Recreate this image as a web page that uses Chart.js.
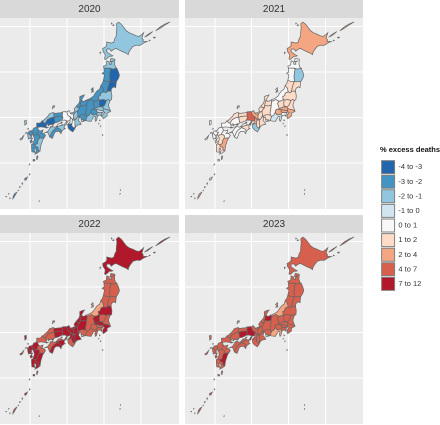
<!DOCTYPE html>
<html>
<head>
<meta charset="utf-8">
<script src="https://cdn.jsdelivr.net/npm/chart.js@4/dist/chart.umd.js"></script>
<style>
    html, body { margin: 0; padding: 0; background: #fff; width: 440px; height: 425px; overflow: hidden; }
    .box { position: absolute; }
</style>
</head>
<body>
<div class="box" style="left:0;top:0;width:179px;height:209px"><canvas id="c2020"></canvas></div>
<div class="box" style="left:185px;top:0;width:178px;height:209px"><canvas id="c2021"></canvas></div>
<div class="box" style="left:0;top:215px;width:179px;height:209px"><canvas id="c2022"></canvas></div>
<div class="box" style="left:185px;top:215px;width:178px;height:209px"><canvas id="c2023"></canvas></div>
<div class="box" style="left:370px;top:146px;width:70px;height:160px"><canvas id="cLegend"></canvas></div>
<script>
const years = ["2020", "2021", "2022", "2023"];
const lonTicks = [130, 135, 140, 145];
const latTicks = [30, 35, 40, 45];

// bins of the colour scale, upper limit is exclusive
const binLabels = ["-4 to -3", "-3 to -2", "-2 to -1", "-1 to 0", "0 to 1", "1 to 2", "2 to 4", "4 to 7", "7 to 12"];
const binUpper = [-3, -2, -1, 0, 1, 2, 4, 7, 12];
const binColors = ["#2166ac", "#4393c3", "#92c5de", "#d1e5f0", "#f7f7f7", "#fddbc7", "#f4a582", "#d6604d", "#b2182b"];

const prefNames = [
    "Hokkaido", "Aomori", "Iwate", "Miyagi", "Akita", "Yamagata", "Fukushima", "Ibaraki", "Tochigi", "Gunma",
    "Saitama", "Chiba", "Tokyo", "Kanagawa", "Niigata", "Toyama", "Ishikawa", "Fukui", "Yamanashi", "Nagano",
    "Gifu", "Shizuoka", "Aichi", "Mie", "Shiga", "Kyoto", "Osaka", "Hyogo", "Nara", "Wakayama",
    "Tottori", "Shimane", "Okayama", "Hiroshima", "Yamaguchi", "Tokushima", "Kagawa", "Ehime", "Kochi", "Fukuoka",
    "Saga", "Nagasaki", "Kumamoto", "Oita", "Miyazaki", "Kagoshima", "Okinawa"
];

// % excess deaths per prefecture, same order as prefNames, estimated from the bin colours
const excess2020 = [-1.5, -1.5, -3.5, -3.5, -2.5, -2.5, -1.5, -1.5, -3.5, -2.5,
    -1.5, -1.5, -0.5, -1.5, -2.5, -2.5, -2.5, -1.5, -2.5, -2.5,
    -2.5, -1.5, -2.5, -1.5, -1.5, 0.5, 0.5, 0.5, 0.5, -3.5,
    -2.5, -1.5, -2.5, -3.5, -3.5, -1.5, 0.5, -1.5, -2.5, -2.5,
    -2.5, -1.5, -2.5, -2.5, -1.5, -2.5, -2.5];
const excess2021 = [3, 0.5, -1.5, 1.5, 0.5, 1.5, 1.5, 1.5, 1.5, 1.5,
    3, 3, 3, 0.5, 0.5, 1.5, 1.5, 1.5, 3, 0.5,
    1.5, -0.5, 1.5, 1.5, 1.5, 3, 3, 5.5, 1.5, -1.5,
    1.5, 1.5, 1.5, 0.5, 0.5, 1.5, 0.5, 0.5, 0.5, 0.5,
    0.5, 0.5, 1.5, 0.5, 3, 1.5, 3];
const excess2022 = [9, 5.5, 5.5, 5.5, 5.5, 5.5, 9, 5.5, 5.5, 9,
    9, 9, 5.5, 5.5, 3, 9, 9, 9, 5.5, 5.5,
    9, 5.5, 5.5, 9, 9, 9, 9, 9, 9, 5.5,
    9, 5.5, 9, 5.5, 5.5, 9, 5.5, 5.5, 9, 9,
    9, 9, 9, 5.5, 9, 9, 5.5];
const excess2023 = [5.5, 5.5, 5.5, 5.5, 5.5, 5.5, 5.5, 5.5, 5.5, 5.5,
    5.5, 5.5, 5.5, 5.5, 3, 9, 5.5, 5.5, 5.5, 5.5,
    5.5, 3, 5.5, 5.5, 5.5, 5.5, 5.5, 9, 5.5, 5.5,
    5.5, 5.5, 9, 5.5, 5.5, 5.5, 5.5, 5.5, 5.5, 5.5,
    5.5, 5.5, 5.5, 5.5, 9, 5.5, 5.5];

// outlines as lon, lat pairs, one list of rings per prefecture
const prefRings = [
    [ // Hokkaido
        [141.94,45.52, 142.35,45.25, 143.0,44.55, 143.35,44.35, 143.95,44.15, 144.3,44.0, 144.7,43.93, 145.05,44.15, 145.33,44.34, 145.2,44.03, 145.1,43.75, 145.3,43.55, 145.2,43.4, 145.82,43.38, 145.5,43.27, 145.2,43.15, 144.85,42.95, 144.4,42.97, 143.9,42.85, 143.55,42.5, 143.3,42.15, 143.25,41.93, 142.95,42.1, 142.5,42.25, 142.0,42.45, 141.6,42.62, 141.25,42.5, 140.97,42.31, 140.75,42.55, 140.4,42.55, 140.3,42.3, 140.6,42.1, 140.95,41.9, 141.18,41.8, 141.0,41.75, 140.73,41.77, 140.45,41.55, 140.2,41.4, 140.05,41.45, 140.15,41.9, 139.85,42.3, 139.8,42.6, 140.2,42.8, 140.35,42.95, 140.35,43.33, 141.0,43.2, 141.3,43.3, 141.45,43.7, 141.63,43.95, 141.65,44.4, 141.72,44.9, 141.65,45.3],
        [141.2,45.22, 141.32,45.2, 141.3,45.1, 141.17,45.12],
        [141.0,45.45, 141.07,45.32, 140.98,45.3],
        [139.42,42.2, 139.55,42.2, 139.45,42.05],
        [145.45,43.85, 145.9,44.15, 146.55,44.47, 145.95,44.05],
        [146.95,44.55, 147.5,44.95, 148.2,45.3, 148.88,45.52, 148.2,45.18, 147.5,44.8],
        [146.6,43.85, 146.9,43.85, 146.8,43.75],
        [146.05,43.55, 146.2,43.5, 146.1,43.45]
    ],
    [ // Aomori
        [140.9,41.53, 141.46,41.43, 141.4,40.9, 141.55,40.53, 141.7,40.45, 141.2,40.35, 140.75,40.45, 139.98,40.45, 139.9,40.65, 140.3,40.8, 140.35,41.25, 140.65,41.15, 140.75,40.85, 141.0,40.9, 140.87,41.0, 141.2,41.25, 140.8,41.15]
    ],
    [ // Iwate
        [141.7,40.45, 141.95,40.0, 142.07,39.64, 141.9,39.27, 141.65,38.98, 141.1,38.95, 140.8,39.0, 140.75,39.5, 140.8,40.0, 140.9,40.3, 140.75,40.45, 141.2,40.35]
    ],
    [ // Miyagi
        [141.1,38.95, 141.65,38.98, 141.55,38.3, 141.3,38.4, 141.05,38.25, 140.95,38.1, 140.95,37.88, 140.7,37.95, 140.4,37.9, 140.5,38.3, 140.65,38.7, 140.8,39.0]
    ],
    [ // Akita
        [139.98,40.45, 140.0,40.0, 139.72,39.9, 140.05,39.7, 139.9,39.1, 140.3,39.0, 140.8,39.0, 140.75,39.5, 140.8,40.0, 140.9,40.3, 140.75,40.45]
    ],
    [ // Yamagata
        [139.9,39.1, 139.75,38.75, 139.55,38.55, 139.85,38.25, 139.95,37.85, 140.25,37.75, 140.4,37.9, 140.5,38.3, 140.65,38.7, 140.8,39.0, 140.3,39.0]
    ],
    [ // Fukushima
        [140.95,37.88, 141.05,37.4, 141.0,37.0, 140.8,36.9, 140.55,37.0, 140.3,36.9, 139.9,37.0, 139.4,36.95, 139.3,37.0, 139.2,37.3, 139.5,37.45, 139.55,37.7, 139.95,37.85, 140.25,37.75, 140.4,37.9, 140.7,37.95]
    ],
    [ // Ibaraki
        [140.8,36.9, 140.62,36.5, 140.6,36.3, 140.85,35.75, 140.5,35.9, 140.05,35.95, 139.9,36.05, 139.75,36.2, 140.0,36.3, 140.2,36.6, 140.3,36.9, 140.55,37.0]
    ],
    [ // Tochigi
        [140.3,36.9, 140.2,36.6, 140.0,36.3, 139.75,36.2, 139.4,36.3, 139.35,36.55, 139.4,36.95, 139.9,37.0]
    ],
    [ // Gunma
        [139.4,36.95, 139.35,36.55, 139.4,36.3, 139.75,36.2, 139.3,36.2, 139.0,36.1, 138.7,36.0, 138.65,36.3, 138.5,36.55, 138.7,36.8, 139.0,36.85, 139.3,37.0]
    ],
    [ // Saitama
        [139.75,36.2, 139.9,36.05, 139.85,35.8, 139.6,35.8, 139.3,35.85, 139.05,35.9, 138.75,35.9, 138.7,36.0, 139.0,36.1, 139.3,36.2]
    ],
    [ // Chiba
        [139.9,36.05, 140.05,35.95, 140.5,35.9, 140.85,35.75, 140.87,35.7, 140.4,35.5, 140.4,35.2, 139.9,34.9, 139.82,35.0, 139.8,35.3, 140.1,35.6, 139.9,35.65, 139.85,35.8]
    ],
    [ // Tokyo
        [139.85,35.8, 139.9,35.65, 139.77,35.55, 139.7,35.6, 139.45,35.55, 139.15,35.6, 138.95,35.75, 139.05,35.9, 139.3,35.85, 139.6,35.8],
        [139.35,34.78, 139.45,34.72, 139.38,34.66],
        [139.24,34.4, 139.3,34.36, 139.26,34.32],
        [139.47,34.12, 139.56,34.08, 139.5,34.03],
        [139.72,33.15, 139.85,33.1, 139.78,33.05],
        [142.16,27.12, 142.22,27.08, 142.18,27.02],
        [142.13,26.7, 142.18,26.65, 142.14,26.6],
        [141.28,24.82, 141.34,24.78, 141.28,24.74]
    ],
    [ // Kanagawa
        [139.77,35.55, 139.65,35.4, 139.65,35.15, 139.5,35.3, 139.15,35.25, 139.1,35.15, 139.0,35.3, 139.0,35.4, 139.15,35.6, 139.45,35.55, 139.7,35.6]
    ],
    [ // Niigata
        [139.55,38.55, 139.4,38.15, 139.05,37.95, 138.8,37.7, 138.55,37.37, 138.25,37.18, 137.85,37.03, 137.65,36.95, 137.7,36.8, 138.3,37.0, 138.7,36.8, 139.0,36.85, 139.3,37.0, 139.2,37.3, 139.5,37.45, 139.55,37.7, 139.95,37.85, 139.85,38.25],
        [138.5,38.33, 138.52,38.05, 138.55,37.85, 138.28,37.8, 138.43,37.98, 138.23,38.1]
    ],
    [ // Toyama
        [137.65,36.95, 137.2,36.77, 137.0,36.9, 136.95,36.95, 136.85,36.7, 136.75,36.35, 137.2,36.3, 137.65,36.4, 137.7,36.8]
    ],
    [ // Ishikawa
        [136.95,36.95, 137.05,37.1, 137.35,37.5, 136.9,37.4, 136.7,37.3, 136.72,36.9, 136.6,36.6, 136.25,36.28, 136.45,36.1, 136.75,36.15, 136.75,36.35, 136.85,36.7]
    ],
    [ // Fukui
        [136.25,36.28, 135.95,35.95, 136.05,35.67, 135.7,35.55, 135.45,35.5, 135.6,35.4, 135.95,35.45, 136.1,35.6, 136.4,35.75, 136.75,36.15, 136.45,36.1]
    ],
    [ // Yamanashi
        [139.05,35.9, 138.95,35.75, 139.15,35.6, 139.0,35.4, 138.75,35.35, 138.55,35.3, 138.4,35.35, 138.2,35.6, 138.2,35.75, 138.4,35.95, 138.75,35.9]
    ],
    [ // Nagano
        [138.2,35.6, 138.0,35.3, 137.7,35.15, 137.55,35.3, 137.5,35.6, 137.6,35.95, 137.65,36.4, 137.7,36.8, 138.3,37.0, 138.7,36.8, 138.5,36.55, 138.65,36.3, 138.7,36.0, 138.75,35.9, 138.4,35.95, 138.2,35.75]
    ],
    [ // Gifu
        [136.75,36.15, 136.75,36.35, 137.2,36.3, 137.65,36.4, 137.6,35.95, 137.5,35.6, 137.55,35.3, 137.05,35.35, 136.7,35.25, 136.55,35.1, 136.45,35.35, 136.4,35.75]
    ],
    [ // Shizuoka
        [139.1,35.15, 139.08,35.05, 138.95,34.67, 138.85,34.6, 138.75,34.85, 138.85,35.1, 138.65,35.13, 138.5,35.02, 138.22,34.6, 137.7,34.65, 137.5,34.68, 137.6,34.9, 137.7,35.15, 138.0,35.3, 138.2,35.6, 138.4,35.35, 138.55,35.3, 138.75,35.35, 139.0,35.4, 139.0,35.3]
    ],
    [ // Aichi
        [137.5,34.68, 137.03,34.58, 137.3,34.75, 136.95,34.8, 136.92,34.69, 136.85,35.05, 136.7,35.05, 136.55,35.1, 136.7,35.25, 137.05,35.35, 137.55,35.3, 137.7,35.15, 137.6,34.9]
    ],
    [ // Mie
        [136.55,35.1, 136.7,35.05, 136.63,34.95, 136.52,34.7, 136.75,34.5, 136.9,34.27, 136.45,34.2, 136.2,34.05, 136.0,33.75, 136.0,33.85, 136.1,34.1, 136.05,34.4, 136.05,34.75, 136.15,34.8, 136.45,35.15]
    ],
    [ // Shiga
        [135.95,35.45, 136.1,35.6, 136.4,35.75, 136.45,35.35, 136.45,35.15, 136.15,34.8, 135.85,34.9, 135.85,35.2]
    ],
    [ // Kyoto
        [135.45,35.5, 135.25,35.78, 135.05,35.7, 134.95,35.65, 135.1,35.3, 135.2,35.2, 135.45,35.1, 135.55,34.95, 135.7,34.88, 135.85,34.75, 136.05,34.75, 136.15,34.8, 135.85,34.9, 135.85,35.2, 135.95,35.45, 135.6,35.4]
    ],
    [ // Osaka
        [135.45,35.1, 135.4,34.72, 135.42,34.55, 135.1,34.3, 135.4,34.33, 135.65,34.35, 135.7,34.65, 135.7,34.88, 135.55,34.95]
    ],
    [ // Hyogo
        [134.4,35.65, 134.8,35.67, 134.95,35.65, 135.1,35.3, 135.2,35.2, 135.45,35.1, 135.4,34.72, 135.1,34.62, 134.7,34.75, 134.25,34.72, 134.45,35.0, 134.35,35.2],
        [134.95,34.6, 135.02,34.55, 134.85,34.2, 134.65,34.25]
    ],
    [ // Nara
        [135.7,34.88, 135.85,34.75, 136.05,34.75, 136.05,34.4, 136.1,34.1, 136.0,33.85, 135.8,33.95, 135.65,34.1, 135.65,34.35, 135.7,34.65]
    ],
    [ // Wakayama
        [135.1,34.3, 135.4,34.33, 135.65,34.35, 135.65,34.1, 135.8,33.95, 136.0,33.85, 136.0,33.75, 135.77,33.44, 135.35,33.68, 135.15,33.87, 135.1,34.15]
    ],
    [ // Tottori
        [134.4,35.65, 134.35,35.2, 133.6,35.15, 133.25,35.05, 133.2,35.3, 133.24,35.53, 133.35,35.47, 133.8,35.52, 134.2,35.55]
    ],
    [ // Shimane
        [133.24,35.53, 133.1,35.58, 132.62,35.43, 132.4,35.15, 132.05,34.9, 131.8,34.68, 131.65,34.67, 131.85,34.45, 132.05,34.4, 132.35,34.8, 132.7,34.95, 133.1,35.05, 133.25,35.05, 133.2,35.3],
        [133.05,36.3, 133.32,36.3, 133.3,36.15, 133.1,36.18],
        [132.98,36.13, 133.1,36.08, 133.05,36.0]
    ],
    [ // Okayama
        [134.35,35.2, 134.45,35.0, 134.25,34.72, 134.0,34.6, 133.7,34.5, 133.4,34.45, 133.3,34.75, 133.25,35.05, 133.6,35.15]
    ],
    [ // Hiroshima
        [133.4,34.45, 133.2,34.35, 132.55,34.2, 132.45,34.35, 132.2,34.2, 132.05,34.4, 132.35,34.8, 132.7,34.95, 133.1,35.05, 133.25,35.05, 133.3,34.75],
        [132.5,34.25, 132.55,34.12, 132.42,34.15],
        [133.1,34.3, 133.18,34.25, 133.1,34.2]
    ],
    [ // Yamaguchi
        [131.65,34.67, 131.4,34.42, 130.9,34.4, 130.9,34.0, 131.2,33.95, 131.45,34.0, 131.85,33.95, 132.2,33.9, 132.2,34.2, 132.05,34.4, 131.85,34.45],
        [132.12,33.97, 132.45,33.92, 132.2,33.86]
    ],
    [ // Tokushima
        [134.45,34.2, 134.65,34.2, 134.6,33.85, 134.75,33.83, 134.35,33.6, 134.25,33.45, 134.2,33.6, 134.1,33.75, 133.8,33.85, 133.65,33.95, 133.55,34.03, 133.8,34.05, 134.2,34.15]
    ],
    [ // Kagawa
        [134.45,34.2, 134.2,34.35, 134.05,34.35, 133.8,34.3, 133.6,34.1, 133.55,34.03, 133.8,34.05, 134.2,34.15],
        [134.18,34.53, 134.35,34.52, 134.3,34.44, 134.18,34.46]
    ],
    [ // Ehime
        [133.55,34.03, 133.3,33.95, 133.0,34.07, 132.7,33.85, 132.4,33.5, 132.0,33.35, 132.4,33.4, 132.5,33.2, 132.65,32.9, 132.75,33.1, 132.95,33.45, 133.25,33.7, 133.65,33.95],
        [132.95,34.25, 133.08,34.22, 133.0,34.15],
        [132.7,34.02, 132.82,34.0, 132.75,33.92]
    ],
    [ // Kochi
        [134.25,33.45, 134.18,33.25, 133.95,33.5, 133.55,33.5, 133.3,33.35, 133.15,33.0, 133.0,32.72, 132.65,32.9, 132.75,33.1, 132.95,33.45, 133.25,33.7, 133.65,33.95, 133.8,33.85, 134.1,33.75, 134.2,33.6]
    ],
    [ // Fukuoka
        [131.0,33.95, 131.18,33.6, 130.95,33.35, 130.9,33.15, 130.6,33.1, 130.4,33.05, 130.35,33.2, 130.5,33.4, 130.2,33.45, 130.1,33.55, 130.35,33.62, 130.5,33.85, 130.85,33.95]
    ],
    [ // Saga
        [130.1,33.55, 130.2,33.45, 130.5,33.4, 130.35,33.2, 130.2,33.1, 130.2,32.95, 130.0,33.1, 129.75,33.3, 129.9,33.55]
    ],
    [ // Nagasaki
        [130.2,32.95, 130.1,32.85, 130.35,32.75, 130.2,32.6, 130.1,32.75, 129.8,32.65, 129.7,33.0, 129.7,33.15, 129.55,33.35, 129.75,33.3, 130.0,33.1],
        [129.25,34.68, 129.5,34.7, 129.5,34.3, 129.3,34.2, 129.3,34.4],
        [129.68,33.82, 129.8,33.8, 129.72,33.72],
        [128.6,32.65, 128.9,32.8, 129.15,33.05, 129.0,32.7, 128.75,32.55],
        [129.4,33.4, 129.5,33.35, 129.42,33.28]
    ],
    [ // Kumamoto
        [130.4,33.05, 130.6,33.1, 130.9,33.15, 131.1,33.15, 131.3,33.0, 131.25,32.75, 131.05,32.5, 131.0,32.15, 130.65,32.05, 130.4,32.15, 130.55,32.5, 130.6,32.65, 130.55,32.85],
        [130.2,32.55, 130.0,32.45, 130.1,32.2, 130.35,32.35]
    ],
    [ // Oita
        [131.18,33.6, 131.45,33.55, 131.75,33.65, 131.68,33.4, 131.5,33.28, 131.9,33.25, 132.1,33.05, 131.9,32.8, 131.25,32.75, 131.3,33.0, 131.1,33.15, 130.9,33.15, 130.95,33.35]
    ],
    [ // Miyazaki
        [131.9,32.8, 131.7,32.55, 131.65,32.4, 131.45,31.9, 131.35,31.35, 131.1,31.45, 131.1,31.75, 130.75,31.85, 130.65,32.05, 131.0,32.15, 131.05,32.5, 131.25,32.75]
    ],
    [ // Kagoshima
        [130.65,32.05, 130.75,31.85, 131.1,31.75, 131.1,31.45, 131.35,31.35, 131.05,31.15, 130.67,31.0, 130.85,31.4, 130.7,31.7, 130.55,31.55, 130.65,31.2, 130.25,31.25, 130.2,31.8, 130.2,32.05, 130.4,32.15],
        [130.95,30.83, 131.08,30.75, 130.95,30.4, 130.87,30.45],
        [130.4,30.42, 130.62,30.4, 130.65,30.25, 130.42,30.25],
        [129.9,29.95, 129.98,29.9, 129.9,29.82],
        [129.25,28.3, 129.65,28.48, 129.5,28.2, 129.32,28.12],
        [128.9,27.85, 129.02,27.82, 128.95,27.68],
        [128.55,27.42, 128.72,27.4, 128.6,27.32],
        [128.38,27.06, 128.46,27.04, 128.4,26.98],
        [129.9,28.85, 130.0,28.8, 129.92,28.72]
    ],
    [ // Okinawa
        [128.25,26.85, 128.05,26.55, 127.8,26.22, 127.68,26.1, 127.75,26.42, 127.92,26.65],
        [126.72,26.38, 126.85,26.36, 126.78,26.3],
        [127.25,26.2, 127.35,26.18, 127.28,26.1],
        [131.22,25.88, 131.3,25.85, 131.23,25.8],
        [127.1,26.7, 127.18,26.66, 127.12,26.6]
    ]
];

const ringsToPoints = rings => {
    const points = [];
    rings.forEach(ring => {
        for (let i = 0; i < ring.length; i += 2) {
            points.push({x: ring[i], y: ring[i + 1]});
        }
        points.push({x: ring[0], y: ring[1]});
        points.push({x: null, y: null}); // breaks the line between islands
    });
    return points;
};

const binColor = value => binColors[binUpper.findIndex(upper => value < upper)];

const panelBackground = {
    id: "panelBackground",
    beforeDraw(chart) {
        const {ctx, width, chartArea} = chart;
        ctx.save();
        ctx.fillStyle = "#d9d9d9";
        ctx.fillRect(0, 0, width, chartArea.top);
        ctx.fillStyle = "#ebebeb";
        ctx.fillRect(chartArea.left, chartArea.top, chartArea.width, chartArea.height);
        ctx.restore();
    }
};

const FONT = "'Liberation Sans', Arial, sans-serif";

const drawPanel = (year, values) => {
    const ctx = document.getElementById("c" + year).getContext("2d");
    new Chart(ctx, {
        type: "scatter",
        data: {
            datasets: prefNames.map((name, i) => ({
                label: name,
                data: ringsToPoints(prefRings[i]),
                showLine: true,
                fill: "shape",
                backgroundColor: binColor(values[i]),
                borderColor: "#666",
                borderWidth: 0.7,
                borderDash: [1000], // solid, but keeps every vertex (no fast path)
                pointRadius: 0,
                spanGaps: false,
            }))
        },
        options: {
            animation: false,
            responsive: true,
            maintainAspectRatio: false,
            devicePixelRatio: 2,
            layout: {padding: 0},
            events: [],
            plugins: {
                legend: {display: false},
                tooltip: {enabled: false},
                title: {
                    display: true,
                    text: year,
                    color: "#333",
                    font: {family: FONT, size: 10, weight: "normal", lineHeight: 1.2},
                    padding: {top: 3, bottom: 3},
                },
            },
            scales: {
                x: {
                    type: "linear",
                    min: 125.95,
                    max: 150.1,
                    afterBuildTicks: axis => { axis.ticks = lonTicks.map(value => ({value})); },
                    ticks: {display: false},
                    grid: {color: "#fff", lineWidth: 1, drawTicks: false},
                    border: {display: false},
                },
                y: {
                    type: "linear",
                    min: 24.97,
                    max: 45.96,
                    afterBuildTicks: axis => { axis.ticks = latTicks.map(value => ({value})); },
                    ticks: {display: false},
                    grid: {color: "#fff", lineWidth: 1, drawTicks: false},
                    border: {display: false},
                },
            },
        },
        plugins: [panelBackground],
    });
};

drawPanel(years[0], excess2020);
drawPanel(years[1], excess2021);
drawPanel(years[2], excess2022);
drawPanel(years[3], excess2023);

new Chart(document.getElementById("cLegend").getContext("2d"), {
    type: "scatter",
    data: {
        datasets: binLabels.map((label, i) => ({
            label,
            data: [],
            backgroundColor: binColors[i],
            borderColor: "#808080",
            borderWidth: 1,
        }))
    },
    options: {
        animation: false,
        responsive: true,
        maintainAspectRatio: false,
        devicePixelRatio: 2,
        events: [],
        layout: {padding: {left: 10}},
        plugins: {
            tooltip: {enabled: false},
            legend: {
                position: "top",
                align: "start",
                maxHeight: 160,
                title: {
                    display: true,
                    text: "% excess deaths",
                    position: "start",
                    color: "#111",
                    font: {family: FONT, size: 7.5, weight: "bold"},
                    padding: {top: 0, bottom: 4},
                },
                labels: {
                    boxWidth: 13,
                    boxHeight: 13,
                    padding: 1.6,
                    color: "#333",
                    font: {family: FONT, size: 7.5},
                },
            },
        },
        scales: {
            x: {display: false},
            y: {display: false},
        },
    },
});
</script>
</body>
</html>
